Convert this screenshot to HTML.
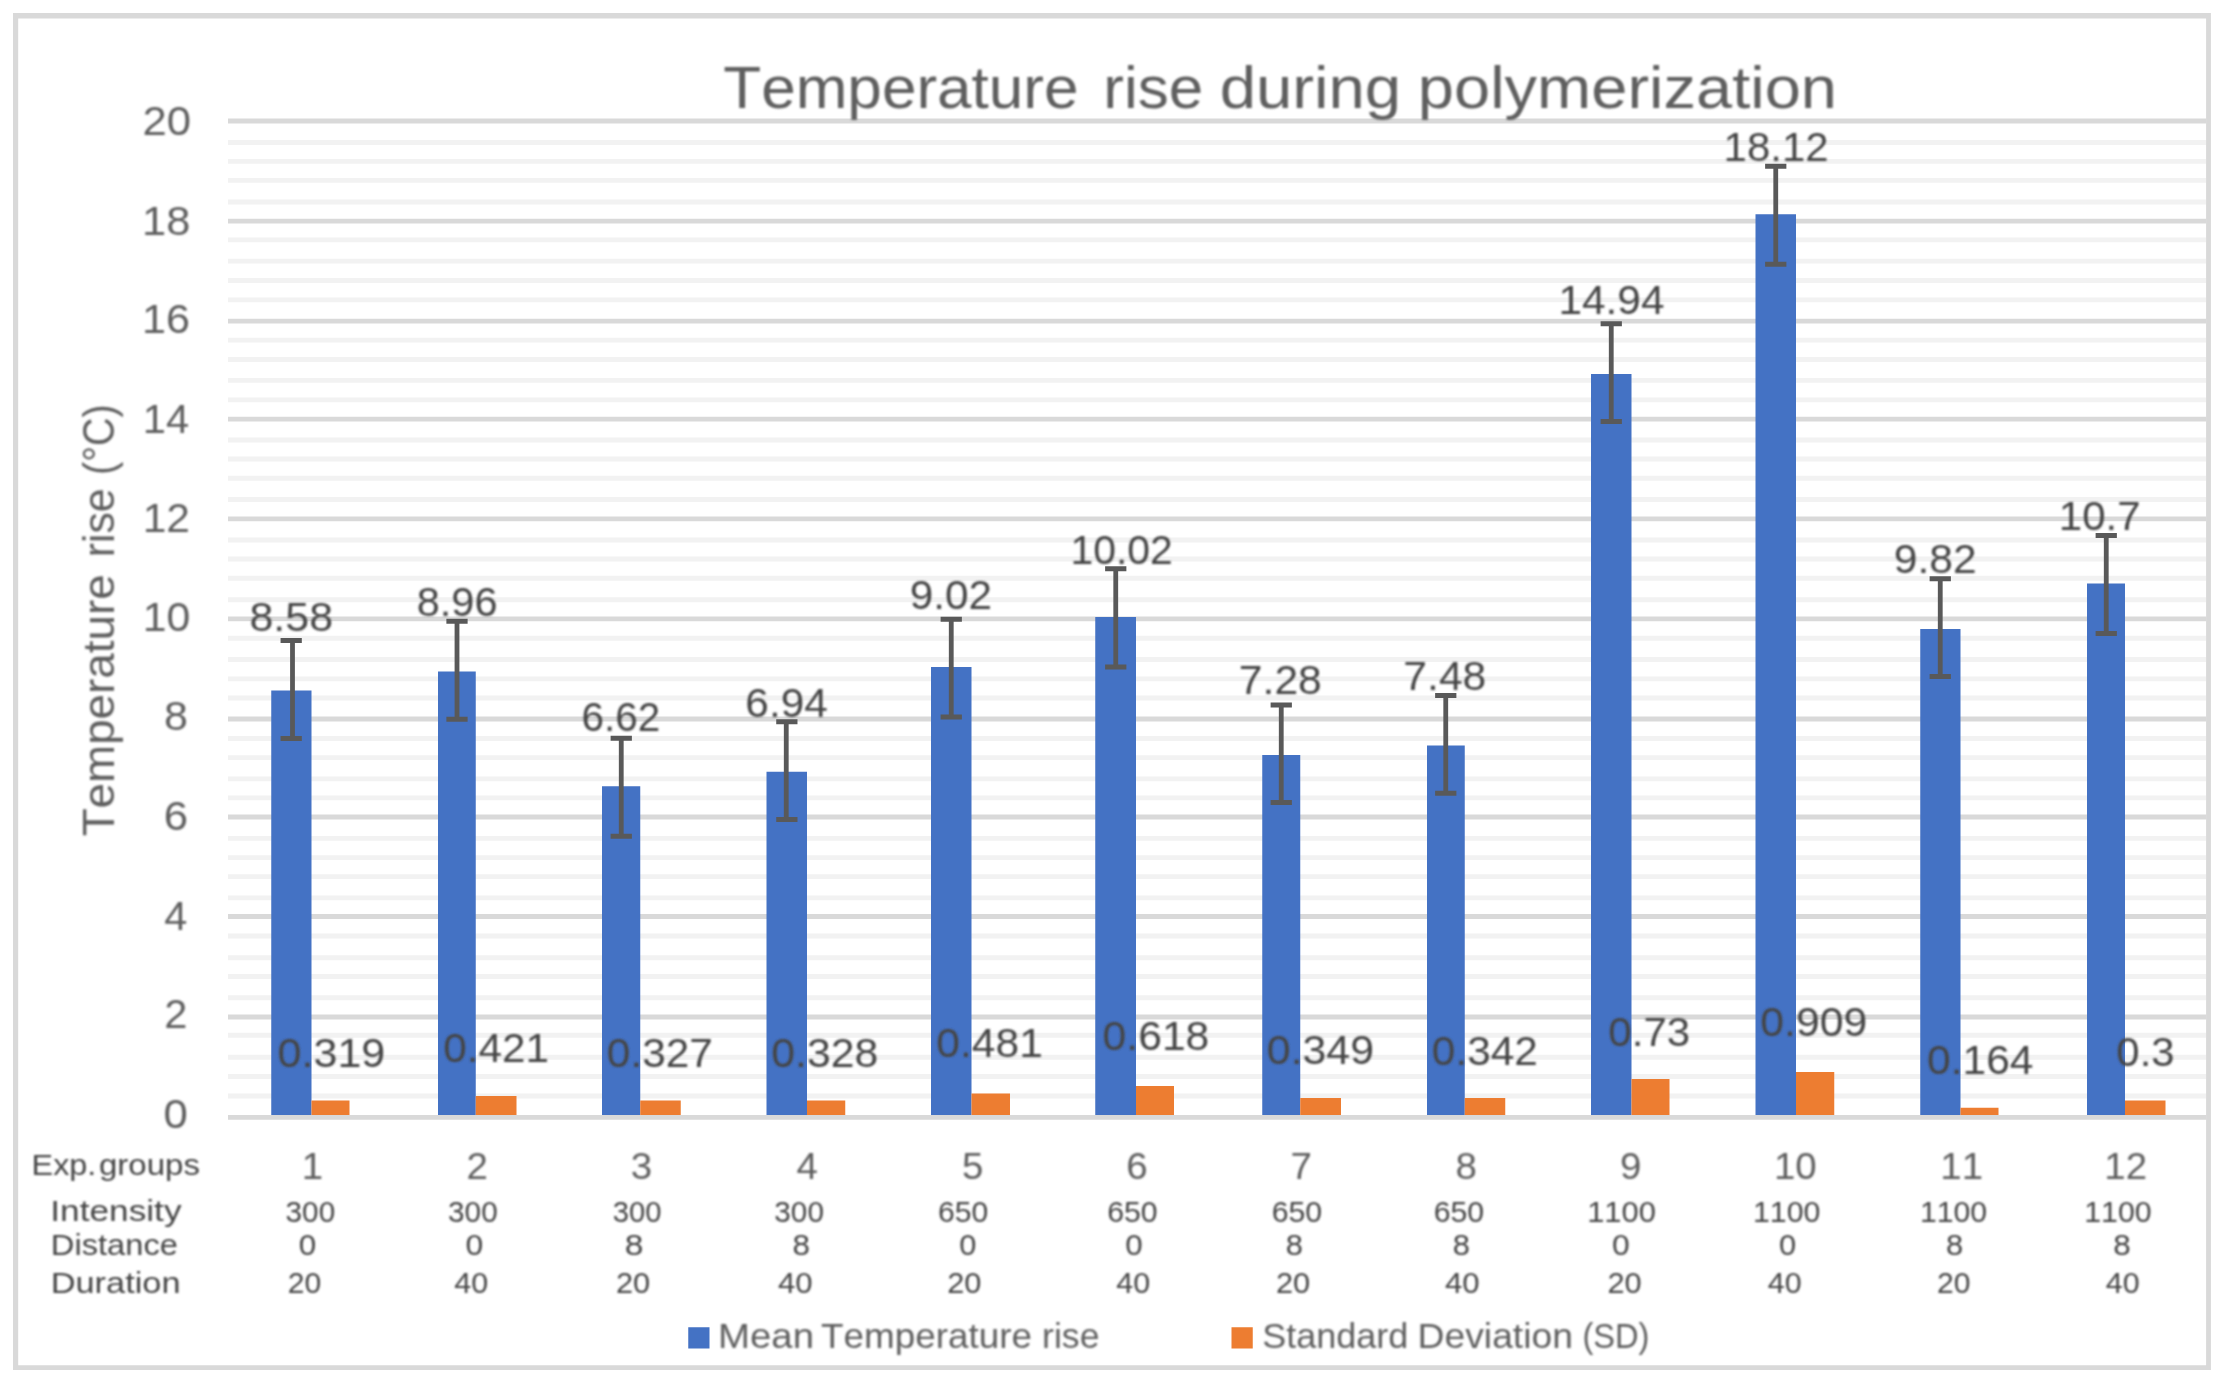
<!DOCTYPE html>
<html lang="en">
<head>
<meta charset="utf-8">
<title>Temperature rise during polymerization</title>
<style>
html,body{margin:0;padding:0;background:#fff;}
body{width:2229px;height:1390px;overflow:hidden;}
svg{display:block;}
svg text{font-family:"Liberation Sans",Arial,sans-serif;font-kerning:none;white-space:pre;}
</style>
</head>
<body>
<svg width="2229" height="1390" viewBox="0 0 2229 1390">
<defs><filter id="soft" x="0" y="0" width="2229" height="1390" filterUnits="userSpaceOnUse"><feGaussianBlur stdDeviation="0.8"/></filter></defs>
<rect width="2229" height="1390" fill="#ffffff"/>
<g stroke-width="4.8" fill="none">
<line x1="228.0" x2="2206.5" y1="142.50" y2="142.50" stroke="#F2F2F2"/>
<line x1="228.0" x2="2206.5" y1="161.30" y2="161.30" stroke="#F2F2F2"/>
<line x1="228.0" x2="2206.5" y1="180.40" y2="180.40" stroke="#F2F2F2"/>
<line x1="228.0" x2="2206.5" y1="202.00" y2="202.00" stroke="#F2F2F2"/>
<line x1="228.0" x2="2206.5" y1="239.80" y2="239.80" stroke="#F2F2F2"/>
<line x1="228.0" x2="2206.5" y1="261.20" y2="261.20" stroke="#F2F2F2"/>
<line x1="228.0" x2="2206.5" y1="280.50" y2="280.50" stroke="#F2F2F2"/>
<line x1="228.0" x2="2206.5" y1="299.80" y2="299.80" stroke="#F2F2F2"/>
<line x1="228.0" x2="2206.5" y1="340.10" y2="340.10" stroke="#F2F2F2"/>
<line x1="228.0" x2="2206.5" y1="359.50" y2="359.50" stroke="#F2F2F2"/>
<line x1="228.0" x2="2206.5" y1="380.40" y2="380.40" stroke="#F2F2F2"/>
<line x1="228.0" x2="2206.5" y1="399.80" y2="399.80" stroke="#F2F2F2"/>
<line x1="228.0" x2="2206.5" y1="440.00" y2="440.00" stroke="#F2F2F2"/>
<line x1="228.0" x2="2206.5" y1="459.00" y2="459.00" stroke="#F2F2F2"/>
<line x1="228.0" x2="2206.5" y1="478.25" y2="478.25" stroke="#F2F2F2"/>
<line x1="228.0" x2="2206.5" y1="499.50" y2="499.50" stroke="#F2F2F2"/>
<line x1="228.0" x2="2206.5" y1="540.00" y2="540.00" stroke="#F2F2F2"/>
<line x1="228.0" x2="2206.5" y1="559.00" y2="559.00" stroke="#F2F2F2"/>
<line x1="228.0" x2="2206.5" y1="578.25" y2="578.25" stroke="#F2F2F2"/>
<line x1="228.0" x2="2206.5" y1="599.75" y2="599.75" stroke="#F2F2F2"/>
<line x1="228.0" x2="2206.5" y1="638.25" y2="638.25" stroke="#F2F2F2"/>
<line x1="228.0" x2="2206.5" y1="659.50" y2="659.50" stroke="#F2F2F2"/>
<line x1="228.0" x2="2206.5" y1="678.90" y2="678.90" stroke="#F2F2F2"/>
<line x1="228.0" x2="2206.5" y1="698.00" y2="698.00" stroke="#F2F2F2"/>
<line x1="228.0" x2="2206.5" y1="738.50" y2="738.50" stroke="#F2F2F2"/>
<line x1="228.0" x2="2206.5" y1="757.60" y2="757.60" stroke="#F2F2F2"/>
<line x1="228.0" x2="2206.5" y1="778.90" y2="778.90" stroke="#F2F2F2"/>
<line x1="228.0" x2="2206.5" y1="797.90" y2="797.90" stroke="#F2F2F2"/>
<line x1="228.0" x2="2206.5" y1="838.40" y2="838.40" stroke="#F2F2F2"/>
<line x1="228.0" x2="2206.5" y1="857.60" y2="857.60" stroke="#F2F2F2"/>
<line x1="228.0" x2="2206.5" y1="876.60" y2="876.60" stroke="#F2F2F2"/>
<line x1="228.0" x2="2206.5" y1="897.90" y2="897.90" stroke="#F2F2F2"/>
<line x1="228.0" x2="2206.5" y1="936.00" y2="936.00" stroke="#F2F2F2"/>
<line x1="228.0" x2="2206.5" y1="957.75" y2="957.75" stroke="#F2F2F2"/>
<line x1="228.0" x2="2206.5" y1="976.50" y2="976.50" stroke="#F2F2F2"/>
<line x1="228.0" x2="2206.5" y1="997.75" y2="997.75" stroke="#F2F2F2"/>
<line x1="228.0" x2="2206.5" y1="1035.25" y2="1035.25" stroke="#F2F2F2"/>
<line x1="228.0" x2="2206.5" y1="1057.25" y2="1057.25" stroke="#F2F2F2"/>
<line x1="228.0" x2="2206.5" y1="1076.50" y2="1076.50" stroke="#F2F2F2"/>
<line x1="228.0" x2="2206.5" y1="1096.00" y2="1096.00" stroke="#F2F2F2"/>
<line x1="228.0" x2="2206.5" y1="121.00" y2="121.00" stroke="#D9D9D9"/>
<line x1="228.0" x2="2206.5" y1="221.10" y2="221.10" stroke="#D9D9D9"/>
<line x1="228.0" x2="2206.5" y1="321.10" y2="321.10" stroke="#D9D9D9"/>
<line x1="228.0" x2="2206.5" y1="419.20" y2="419.20" stroke="#D9D9D9"/>
<line x1="228.0" x2="2206.5" y1="518.90" y2="518.90" stroke="#D9D9D9"/>
<line x1="228.0" x2="2206.5" y1="618.90" y2="618.90" stroke="#D9D9D9"/>
<line x1="228.0" x2="2206.5" y1="719.00" y2="719.00" stroke="#D9D9D9"/>
<line x1="228.0" x2="2206.5" y1="817.00" y2="817.00" stroke="#D9D9D9"/>
<line x1="228.0" x2="2206.5" y1="916.50" y2="916.50" stroke="#D9D9D9"/>
<line x1="228.0" x2="2206.5" y1="1017.00" y2="1017.00" stroke="#D9D9D9"/>
<line x1="228.0" x2="2206.5" y1="1117.30" y2="1117.30" stroke="#D9D9D9"/>
</g>
<rect x="271.25" y="690.5" width="40.25" height="424.50" fill="#4472C4"/>
<rect x="311.5" y="1100.5" width="38.00" height="14.50" fill="#ED7D31"/>
<rect x="438" y="671.5" width="37.75" height="443.50" fill="#4472C4"/>
<rect x="475.75" y="1096" width="40.75" height="19.00" fill="#ED7D31"/>
<rect x="602" y="786.25" width="38.25" height="328.75" fill="#4472C4"/>
<rect x="640.25" y="1100.5" width="40.50" height="14.50" fill="#ED7D31"/>
<rect x="766.5" y="771.75" width="40.50" height="343.25" fill="#4472C4"/>
<rect x="807" y="1100.5" width="38.25" height="14.50" fill="#ED7D31"/>
<rect x="931" y="667" width="40.50" height="448.00" fill="#4472C4"/>
<rect x="971.5" y="1093.5" width="38.50" height="21.50" fill="#ED7D31"/>
<rect x="1095.25" y="617" width="40.75" height="498.00" fill="#4472C4"/>
<rect x="1136" y="1086" width="38.00" height="29.00" fill="#ED7D31"/>
<rect x="1262.25" y="755" width="38.00" height="360.00" fill="#4472C4"/>
<rect x="1300.25" y="1098" width="40.75" height="17.00" fill="#ED7D31"/>
<rect x="1427" y="745.5" width="37.75" height="369.50" fill="#4472C4"/>
<rect x="1464.75" y="1098" width="40.50" height="17.00" fill="#ED7D31"/>
<rect x="1591" y="374" width="40.50" height="741.00" fill="#4472C4"/>
<rect x="1631.5" y="1079" width="38.00" height="36.00" fill="#ED7D31"/>
<rect x="1755.5" y="214.25" width="40.50" height="900.75" fill="#4472C4"/>
<rect x="1796" y="1072" width="38.25" height="43.00" fill="#ED7D31"/>
<rect x="1920.25" y="629" width="40.25" height="486.00" fill="#4472C4"/>
<rect x="1960.5" y="1107.75" width="38.00" height="7.25" fill="#ED7D31"/>
<rect x="2087" y="583.5" width="38.00" height="531.50" fill="#4472C4"/>
<rect x="2125" y="1100.5" width="40.50" height="14.50" fill="#ED7D31"/>
<g stroke="#595959" stroke-width="4.8" fill="none">
<path d="M280.57 640.5H301.82M280.57 738.5H301.82M292.5 640.5V738.5"/>
<path d="M446.38 621.25H467.62M446.38 719.25H467.62M457 621.25V719.25"/>
<path d="M610.62 738.25H631.88M610.62 836.25H631.88M621.25 738.25V836.25"/>
<path d="M776.23 721.75H797.48M776.23 819.5H797.48M786.25 721.75V819.5"/>
<path d="M940.62 619.25H961.88M940.62 717H961.88M951.25 619.25V717"/>
<path d="M1105.12 568.75H1126.38M1105.12 667H1126.38M1115.75 568.75V667"/>
<path d="M1270.62 705H1291.88M1270.62 802.5H1291.88M1281.25 705V802.5"/>
<path d="M1435.12 695.5H1456.38M1435.12 793.25H1456.38M1445.75 695.5V793.25"/>
<path d="M1600.62 323.75H1621.88M1600.62 421.5H1621.88M1611.25 323.75V421.5"/>
<path d="M1765.12 166.25H1786.38M1765.12 264.25H1786.38M1775.75 166.25V264.25"/>
<path d="M1929.62 578.75H1950.88M1929.62 676.5H1950.88M1940.25 578.75V676.5"/>
<path d="M2095.62 535.5H2116.88M2095.62 633.5H2116.88M2106.25 535.5V633.5"/>
</g>
<rect x="688.25" y="1327.25" width="21.25" height="21.25" fill="#4472C4"/>
<rect x="1231.5" y="1327.25" width="21.25" height="21.25" fill="#ED7D31"/>
<path fill-rule="evenodd" fill="#D9D9D9" d="M13 12.9H2210.9V1369.9H13ZM18.2 18.5V1365.2H2206.1V18.5Z"/>
<g filter="url(#soft)">
<text transform="translate(723.21 108.20) scale(1.0524 1)" font-size="59" fill="#5e5e5e">Temperature</text>
<text transform="translate(1103.28 108.20) scale(1.0505 1)" font-size="59" fill="#5e5e5e">rise</text>
<text transform="translate(1219.66 108.20) scale(1.1070 1)" font-size="59" fill="#5e5e5e">during</text>
<text transform="translate(1417.81 108.20) scale(1.1021 1)" font-size="59" fill="#5e5e5e">polymerization</text>
<text transform="translate(249.38 630.90) scale(1.0756 1)" font-size="40" fill="#454545">8.58</text>
<text transform="translate(416.69 616.40) scale(1.0389 1)" font-size="40" fill="#454545">8.96</text>
<text transform="translate(581.44 731.40) scale(1.0128 1)" font-size="40" fill="#454545">6.62</text>
<text transform="translate(745.35 716.90) scale(1.0583 1)" font-size="40" fill="#454545">6.94</text>
<text transform="translate(909.77 609.40) scale(1.0579 1)" font-size="40" fill="#454545">9.02</text>
<text transform="translate(1070.38 563.90) scale(1.0233 1)" font-size="40" fill="#454545">10.02</text>
<text transform="translate(1238.81 694.40) scale(1.0667 1)" font-size="40" fill="#454545">7.28</text>
<text transform="translate(1403.31 689.90) scale(1.0667 1)" font-size="40" fill="#454545">7.48</text>
<text transform="translate(1558.52 313.90) scale(1.0586 1)" font-size="40" fill="#454545">14.94</text>
<text transform="translate(1723.55 161.40) scale(1.0496 1)" font-size="40" fill="#454545">18.12</text>
<text transform="translate(1893.75 573.15) scale(1.0647 1)" font-size="40" fill="#454545">9.82</text>
<text transform="translate(2058.80 529.90) scale(1.0509 1)" font-size="40" fill="#454545">10.7</text>
<text transform="translate(277.57 1066.90) scale(1.0762 1)" font-size="40" fill="#454545">0.319</text>
<text transform="translate(443.35 1061.90) scale(1.0561 1)" font-size="40" fill="#454545">0.421</text>
<text transform="translate(606.84 1067.40) scale(1.0593 1)" font-size="40" fill="#454545">0.327</text>
<text transform="translate(771.33 1066.90) scale(1.0692 1)" font-size="40" fill="#454545">0.328</text>
<text transform="translate(936.34 1057.40) scale(1.0639 1)" font-size="40" fill="#454545">0.481</text>
<text transform="translate(1102.58 1049.90) scale(1.0667 1)" font-size="40" fill="#454545">0.618</text>
<text transform="translate(1266.83 1064.40) scale(1.0710 1)" font-size="40" fill="#454545">0.349</text>
<text transform="translate(1431.84 1064.90) scale(1.0593 1)" font-size="40" fill="#454545">0.342</text>
<text transform="translate(1608.36 1045.65) scale(1.0499 1)" font-size="40" fill="#454545">0.73</text>
<text transform="translate(1760.33 1035.65) scale(1.0684 1)" font-size="40" fill="#454545">0.909</text>
<text transform="translate(1927.09 1073.90) scale(1.0630 1)" font-size="40" fill="#454545">0.164</text>
<text transform="translate(2116.36 1066.40) scale(1.0471 1)" font-size="40" fill="#454545">0.3</text>
<text transform="translate(142.40 134.80) scale(1.0924 1)" font-size="40" fill="#5e5e5e">20</text>
<text transform="translate(142.09 234.90) scale(1.0880 1)" font-size="40" fill="#5e5e5e">18</text>
<text transform="translate(142.11 332.60) scale(1.0784 1)" font-size="40" fill="#5e5e5e">16</text>
<text transform="translate(142.72 432.55) scale(1.0429 1)" font-size="40" fill="#5e5e5e">14</text>
<text transform="translate(142.65 532.30) scale(1.0651 1)" font-size="40" fill="#5e5e5e">12</text>
<text transform="translate(142.64 631.30) scale(1.0706 1)" font-size="40" fill="#5e5e5e">10</text>
<text transform="translate(164.03 730.30) scale(1.0762 1)" font-size="40" fill="#5e5e5e">8</text>
<text transform="translate(163.68 830.30) scale(1.0944 1)" font-size="40" fill="#5e5e5e">6</text>
<text transform="translate(164.25 930.30) scale(1.0369 1)" font-size="40" fill="#5e5e5e">4</text>
<text transform="translate(164.30 1028.30) scale(1.0427 1)" font-size="40" fill="#5e5e5e">2</text>
<text transform="translate(163.49 1128.30) scale(1.0930 1)" font-size="40" fill="#5e5e5e">0</text>
<text transform="translate(113.6 836.33) rotate(-90) scale(1.0169 1)" font-size="45" fill="#5e5e5e">Temperature</text>
<text transform="translate(113.6 557.34) rotate(-90) scale(0.9508 1)" font-size="45" fill="#5e5e5e">rise</text>
<text transform="translate(113.6 474.95) rotate(-90) scale(0.8774 1)" font-size="45" fill="#5e5e5e">(°C)</text>
<text transform="translate(301.65 1179.00) scale(1.0400 1)" font-size="37" fill="#5e5e5e">1</text>
<text transform="translate(466.42 1179.00) scale(1.0400 1)" font-size="37" fill="#5e5e5e">2</text>
<text transform="translate(630.79 1179.00) scale(1.0400 1)" font-size="37" fill="#5e5e5e">3</text>
<text transform="translate(796.42 1179.00) scale(1.0400 1)" font-size="37" fill="#5e5e5e">4</text>
<text transform="translate(962.09 1179.00) scale(1.0400 1)" font-size="37" fill="#5e5e5e">5</text>
<text transform="translate(1126.29 1179.00) scale(1.0400 1)" font-size="37" fill="#5e5e5e">6</text>
<text transform="translate(1290.41 1179.00) scale(1.0400 1)" font-size="37" fill="#5e5e5e">7</text>
<text transform="translate(1455.42 1179.00) scale(1.0400 1)" font-size="37" fill="#5e5e5e">8</text>
<text transform="translate(1619.93 1179.00) scale(1.0400 1)" font-size="37" fill="#5e5e5e">9</text>
<text transform="translate(1773.89 1179.00) scale(1.0400 1)" font-size="37" fill="#5e5e5e">10</text>
<text transform="translate(1940.32 1179.00) scale(1.0400 1)" font-size="37" fill="#5e5e5e">11</text>
<text transform="translate(2104.35 1179.00) scale(1.0400 1)" font-size="37" fill="#5e5e5e">12</text>
<text transform="translate(31.54 1174.50) scale(1.0797 1)" font-size="30" fill="#454545">Exp.</text>
<text transform="translate(98.91 1174.50) scale(1.1020 1)" font-size="30" fill="#454545">groups</text>
<text transform="translate(50.25 1221.30) scale(1.1754 1)" font-size="30" fill="#454545">Intensity</text>
<text transform="translate(50.82 1255.30) scale(1.0892 1)" font-size="30" fill="#454545">Distance</text>
<text transform="translate(50.68 1293.20) scale(1.1451 1)" font-size="30" fill="#454545">Duration</text>
<text transform="translate(285.62 1221.60) scale(0.9898 1)" font-size="30" fill="#454545">300</text>
<text transform="translate(298.77 1255.40) scale(1.0460 1)" font-size="30" fill="#454545">0</text>
<text transform="translate(287.74 1293.40) scale(1.0020 1)" font-size="30" fill="#454545">20</text>
<text transform="translate(448.12 1221.60) scale(0.9898 1)" font-size="30" fill="#454545">300</text>
<text transform="translate(465.50 1255.40) scale(1.0634 1)" font-size="30" fill="#454545">0</text>
<text transform="translate(454.30 1293.40) scale(1.0156 1)" font-size="30" fill="#454545">40</text>
<text transform="translate(612.64 1221.60) scale(0.9740 1)" font-size="30" fill="#454545">300</text>
<text transform="translate(624.79 1255.40) scale(1.1188 1)" font-size="30" fill="#454545">8</text>
<text transform="translate(615.95 1293.40) scale(1.0264 1)" font-size="30" fill="#454545">20</text>
<text transform="translate(774.37 1221.60) scale(0.9898 1)" font-size="30" fill="#454545">300</text>
<text transform="translate(792.38 1255.40) scale(1.0478 1)" font-size="30" fill="#454545">8</text>
<text transform="translate(778.03 1293.40) scale(1.0394 1)" font-size="30" fill="#454545">40</text>
<text transform="translate(937.97 1221.60) scale(1.0030 1)" font-size="30" fill="#454545">650</text>
<text transform="translate(959.29 1255.40) scale(1.0285 1)" font-size="30" fill="#454545">0</text>
<text transform="translate(947.20 1293.40) scale(1.0264 1)" font-size="30" fill="#454545">20</text>
<text transform="translate(1107.21 1221.60) scale(1.0083 1)" font-size="30" fill="#454545">650</text>
<text transform="translate(1125.27 1255.40) scale(1.0460 1)" font-size="30" fill="#454545">0</text>
<text transform="translate(1116.30 1293.40) scale(1.0156 1)" font-size="30" fill="#454545">40</text>
<text transform="translate(1271.71 1221.60) scale(1.0083 1)" font-size="30" fill="#454545">650</text>
<text transform="translate(1285.66 1255.40) scale(1.0300 1)" font-size="30" fill="#454545">8</text>
<text transform="translate(1275.95 1293.40) scale(1.0264 1)" font-size="30" fill="#454545">20</text>
<text transform="translate(1433.71 1221.60) scale(1.0083 1)" font-size="30" fill="#454545">650</text>
<text transform="translate(1452.66 1255.40) scale(1.0300 1)" font-size="30" fill="#454545">8</text>
<text transform="translate(1445.03 1293.40) scale(1.0394 1)" font-size="30" fill="#454545">40</text>
<text transform="translate(1587.14 1221.60) scale(1.0311 1)" font-size="30" fill="#454545">1100</text>
<text transform="translate(1612.00 1255.40) scale(1.0634 1)" font-size="30" fill="#454545">0</text>
<text transform="translate(1607.45 1293.40) scale(1.0264 1)" font-size="30" fill="#454545">20</text>
<text transform="translate(1752.94 1221.60) scale(1.0114 1)" font-size="30" fill="#454545">1100</text>
<text transform="translate(1779.04 1255.40) scale(1.0285 1)" font-size="30" fill="#454545">0</text>
<text transform="translate(1767.80 1293.40) scale(1.0156 1)" font-size="30" fill="#454545">40</text>
<text transform="translate(1919.95 1221.60) scale(1.0074 1)" font-size="30" fill="#454545">1100</text>
<text transform="translate(1945.91 1255.40) scale(1.0300 1)" font-size="30" fill="#454545">8</text>
<text transform="translate(1936.99 1293.40) scale(1.0020 1)" font-size="30" fill="#454545">20</text>
<text transform="translate(2084.19 1221.60) scale(1.0114 1)" font-size="30" fill="#454545">1100</text>
<text transform="translate(2113.13 1255.40) scale(1.0478 1)" font-size="30" fill="#454545">8</text>
<text transform="translate(2105.80 1293.40) scale(1.0156 1)" font-size="30" fill="#454545">40</text>
<text transform="translate(718.05 1347.80) scale(1.0970 1)" font-size="35" fill="#5e5e5e">Mean</text>
<text transform="translate(820.97 1347.80) scale(1.0534 1)" font-size="35" fill="#5e5e5e">Temperature</text>
<text transform="translate(1042.03 1347.80) scale(1.0187 1)" font-size="35" fill="#5e5e5e">rise</text>
<text transform="translate(1262.26 1347.80) scale(1.0289 1)" font-size="35" fill="#5e5e5e">Standard</text>
<text transform="translate(1417.54 1347.80) scale(1.0656 1)" font-size="35" fill="#5e5e5e">Deviation</text>
<text transform="translate(1582.38 1347.80) scale(0.9321 1)" font-size="35" fill="#5e5e5e">(SD)</text>
</g>
</svg>
</body>
</html>
